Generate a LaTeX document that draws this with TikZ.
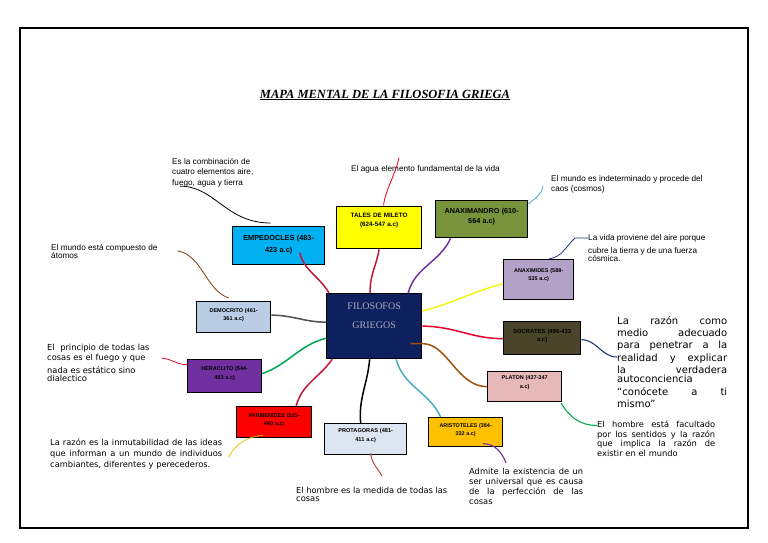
\documentclass[tikz,border=0pt]{standalone}
\usepackage{fontspec}
\setmainfont{Liberation Sans}
\newfontfamily\dvsans{DejaVu Sans}
\newfontfamily\lserif{Liberation Serif}
\tolerance=10000
\hbadness=10000
\definecolor{hubnavy}{RGB}{14,33,94}
\definecolor{hubtext}{RGB}{170,170,186}
\definecolor{fillempedocles}{RGB}{0,176,240}
\definecolor{filltales}{RGB}{255,255,0}
\definecolor{fillanaximandro}{RGB}{119,147,60}
\definecolor{fillanaximides}{RGB}{179,162,199}
\definecolor{filldemocrito}{RGB}{185,205,229}
\definecolor{fillsocrates}{RGB}{74,69,42}
\definecolor{fillheraclito}{RGB}{112,48,160}
\definecolor{fillplaton}{RGB}{230,185,184}
\definecolor{fillparmenides}{RGB}{255,0,0}
\definecolor{fillprotagoras}{RGB}{220,230,242}
\definecolor{fillaristoteles}{RGB}{255,192,0}
\definecolor{wirecrimson}{RGB}{192,24,60}
\definecolor{wirered}{RGB}{230,0,40}
\definecolor{wirepurple}{RGB}{112,48,160}
\definecolor{wiresky}{RGB}{75,172,198}
\definecolor{wireyellow}{RGB}{245,245,20}
\definecolor{wirenavy}{RGB}{31,56,120}
\definecolor{wiregray}{RGB}{80,80,80}
\definecolor{wirebrown}{RGB}{132,60,12}
\definecolor{wiregreen}{RGB}{0,166,80}
\definecolor{wireorange}{RGB}{160,80,10}
\definecolor{wiregold}{RGB}{240,192,0}
\definecolor{wirerose}{RGB}{192,80,77}
\tikzset{
  hubbox/.style={draw, line width=1.3pt, fill=hubnavy, text=hubtext, anchor=north west, minimum width=95pt, minimum height=65pt, text width=89pt, text depth=39pt, align=center, inner sep=1pt, font=\lserif\fontsize{10}{19}\selectfont},
  philobox/.style={draw, line width=1.3pt, anchor=north west, inner sep=1pt, align=center, font=\bfseries\fontsize{5.5}{8}\selectfont},
  notetext/.style={anchor=north west, inner sep=0pt, align=left, font=\fontsize{8.2}{10.5}\selectfont},
  notewide/.style={notetext, font=\dvsans\fontsize{8.3}{10}\selectfont},
  branch/.style={line width=1.5pt},
  twig/.style={line width=0.8pt}
}
\begin{document}
\begin{tikzpicture}[x=1pt, y=1pt]
  \useasboundingbox (0,0) rectangle (768,-543);
  \draw[line width=1.5pt] (20,-28) rectangle (748,-528);
  \node[anchor=base, inner sep=0pt, font=\lserif\bfseries\itshape\fontsize{12.5}{15}\selectfont] (title) at (385,-98) {\underline{MAPA MENTAL DE LA FILOSOFIA GRIEGA}};

  \node[hubbox] (hub) at (326,-293) {FILOSOFOS\\GRIEGOS};

  \node[philobox, fill=filltales, minimum width=85pt, minimum height=42pt, text width=79pt, text depth=24pt, font=\bfseries\fontsize{6.3}{9}\selectfont] (tales) at (336,-206) {TALES DE MILETO\\(624-547 a.c)};
  \node[philobox, fill=fillanaximandro, minimum width=92pt, minimum height=37pt, text width=86pt, text depth=17pt, font=\bfseries\fontsize{7.2}{10.5}\selectfont] (anaximandro) at (435,-200) {ANAXIMANDRO (610-\\564 a.c)};
  \node[philobox, fill=fillempedocles, minimum width=92pt, minimum height=38pt, text width=86pt, text depth=16pt, font=\bfseries\fontsize{7.3}{12}\selectfont] (empedocles) at (232,-226) {EMPEDOCLES (483-\\423 a.c)};
  \node[philobox, fill=fillanaximides, minimum width=70pt, minimum height=40pt, text width=64pt, text depth=19pt] (anaximides) at (503,-259) {ANAXIMIDES (588-\\535 a.c)};
  \node[philobox, fill=filldemocrito, minimum width=74pt, minimum height=31pt, text width=68pt, text depth=13pt] (democrito) at (196,-301) {DEMOCRITO (461-\\361 a.c)};
  \node[philobox, fill=fillsocrates, minimum width=77pt, minimum height=33pt, text width=71pt, text depth=13pt, font=\bfseries\fontsize{5.9}{7.5}\selectfont] (socrates) at (503,-321) {SOCRATES (496-433\\a.c)};
  \node[philobox, fill=fillheraclito, minimum width=74pt, minimum height=33pt, text width=68pt, text depth=15pt, font=\bfseries\fontsize{5.5}{9}\selectfont] (heraclito) at (187,-359) {HERACLITO (544-\\483 a.c)};
  \node[philobox, fill=fillplaton, minimum width=74pt, minimum height=30pt, text width=68pt, text depth=18pt, font=\bfseries\fontsize{5.5}{9}\selectfont] (platon) at (487,-371) {PLATON (427-347\\a.c)};
  \node[philobox, fill=fillparmenides, minimum width=75pt, minimum height=31pt, text width=69pt, text depth=14pt, font=\bfseries\fontsize{5.5}{8.5}\selectfont] (parmenides) at (236,-406) {PARMENIDES (515-\\440 a.c)};
  \node[philobox, fill=fillprotagoras, minimum width=82pt, minimum height=31pt, text width=76pt, text depth=17pt, font=\bfseries\fontsize{5.6}{8.5}\selectfont] (protagoras) at (324,-423) {PROTAGORAS (481-\\411 a.c)};
  \node[philobox, fill=fillaristoteles, minimum width=74pt, minimum height=29pt, text width=68pt, text depth=13pt, font=\bfseries\fontsize{5.4}{8}\selectfont] (aristoteles) at (428,-417) {ARISTOTELES (384-\\332 a.c)};

  \node[notetext] (nEmpedocles) at (172,-158) {Es la combinación de\\cuatro elementos aire,\\fuego, agua y tierra};
  \node[notetext] (nTales) at (351,-165.5) {El agua elemento fundamental de la vida};
  \node[notetext, font=\fontsize{8.2}{10}\selectfont] (nAnaximandro) at (551,-175) {El mundo es indeterminado y procede del\\caos (cosmos)};
  \node[notetext] (nAnaximides) at (588,-234) {La vida proviene del aire porque\\[2.5pt]cubre la tierra y de una fuerza\\[-2.5pt]cósmica.};
  \node[notetext] (nDemocrito) at (51,-244.5) {El mundo está compuesto de\\[-2.5pt]átomos};
  \node[notewide, text width=105pt] (nHeraclito) at (47,-344) {El~ principio de todas las\\cosas es el fuego y que\\[3pt]nada es estático sino\\[-2pt]dialectico};
  \node[notewide, text width=172pt, font=\dvsans\fontsize{8.3}{11}\selectfont] (nParmenides) at (50,-439) {La \hfill razón \hfill es \hfill la \hfill inmutabilidad \hfill de \hfill las \hfill ideas\\que \hfill informan \hfill a \hfill un \hfill mundo \hfill de \hfill individuos\\cambiantes, diferentes y perecederos.};
  \node[notewide] (nProtagoras) at (296,-487) {El hombre es la medida de todas las\\[-2pt]cosas};
  \node[notewide, text width=114pt] (nAristoteles) at (469,-468) {Admite \hfill la \hfill existencia \hfill de \hfill un\\ser \hfill universal \hfill que \hfill es \hfill causa\\de \hfill la \hfill perfección \hfill de \hfill las\\cosas};
  \node[notewide, text width=118pt, font=\dvsans\fontsize{8.3}{9.7}\selectfont] (nPlaton) at (597,-420.5) {El \hfill hombre \hfill está \hfill facultado\\por \hfill los \hfill sentidos \hfill y \hfill la \hfill razón\\que \hfill implica \hfill la \hfill razón \hfill de\\existir en el mundo};
  \node[notewide, text width=110pt, font=\dvsans\fontsize{10}{12.3}\selectfont] (nSocrates) at (617,-316) {La \hfill razón \hfill como\\medio \hfill adecuado\\para \hfill penetrar \hfill a \hfill la\\realidad \hfill y \hfill explicar\\la \hfill verdadera\\[-3pt]autoconciencia\\“conócete \hfill a \hfill ti\\mismo”};

  \draw[branch, wirecrimson] ([xshift=-4pt]hub.north) to[out=92,in=-100] (tales.south);
  \draw[twig, wirered] ([xshift=4.5pt]tales.north) .. controls +(90:12) and +(-100:15) .. ([xshift=48pt,yshift=8pt]nTales.north west);
  \draw[branch, wirecrimson] ([xshift=21pt,yshift=-7pt]empedocles.center) to[out=-75,in=120] ([xshift=3pt]hub.north west);
  \draw[twig, black] ([xshift=8pt,yshift=1pt]nEmpedocles.south west) .. controls +(35,0) and +(-45,0) .. ([xshift=-8pt,yshift=3pt]empedocles.north);
  \draw[branch, wirepurple] ([xshift=-31pt]anaximandro.south) to[out=-115,in=75] ([xshift=34pt]hub.north);
  \draw[twig, wiresky] ([yshift=-4pt]anaximandro.north east) to[out=40,in=-100] ([xshift=-8pt,yshift=-11pt]nAnaximandro.north west);
  \draw[branch, wireyellow] ([yshift=15pt]hub.east) to[out=15,in=195] ([yshift=-4pt]anaximides.west);
  \draw[twig, wirenavy] ([xshift=10pt]anaximides.north) .. controls +(14,2) and +(-9,-8) .. ([xshift=-13pt,yshift=-4pt]nAnaximides.north west) -- ([yshift=-4pt]nAnaximides.north west);
  \draw[branch, wiregray] ([yshift=2pt]democrito.east) to[out=0,in=180] ([yshift=4pt]hub.west);
  \draw[twig, wirebrown] ([xshift=20pt,yshift=1pt]nDemocrito.east) .. controls +(25,-5) and +(-23,8) .. ([xshift=-5pt,yshift=3pt]democrito.north);
  \draw[branch, wirered] (hub.east) to[out=0,in=180] ([yshift=-0.5pt]socrates.west);
  \draw[twig, wirenavy, line width=1.1pt] ([yshift=-1.5pt]socrates.east) to[out=0,in=180] ([yshift=-41pt]nSocrates.north west);
  \draw[branch, wiregreen] ([yshift=2.5pt]heraclito.east) to[out=20,in=195] ([yshift=-12pt]hub.west);
  \draw[twig, wirered] ([xshift=9pt,yshift=-14pt]nHeraclito.north east) to[out=-5,in=180] ([yshift=11.5pt]heraclito.west);
  \draw[branch, wireorange] ([xshift=36.5pt,yshift=-17.5pt]hub.center) -- ++(12,0) .. controls +(25,0) and +(-30,0) .. (platon.west);
  \draw[twig, wiregreen, line width=1.1pt] ([xshift=-1pt,yshift=-1pt]platon.south east) to[out=-60,in=180] ([yshift=-5pt]nPlaton.north west);
  \draw[branch, wirecrimson] ([xshift=22pt]parmenides.north) to[out=75,in=-125] ([xshift=-42pt]hub.south);
  \draw[twig, wiregold] ([xshift=-11pt,yshift=3pt]parmenides.south) to[out=185,in=60] ([xshift=6pt,yshift=-18pt]nParmenides.north east);
  \draw[branch, black] ([xshift=-5pt]protagoras.north) to[out=95,in=-95] ([xshift=-4.5pt]hub.south);
  \draw[twig, wirerose, line width=1.1pt] ([xshift=5pt,yshift=2pt]protagoras.south) to[out=-85,in=120] ([xshift=86pt,yshift=11pt]nProtagoras.north west);
  \draw[branch, wiresky] ([xshift=22pt]hub.south) to[out=-75,in=115] ([xshift=-25pt]aristoteles.north);
  \draw[twig, wirepurple, line width=1.1pt] ([xshift=17pt,yshift=-11.5pt]aristoteles.center) to[out=0,in=110] ([xshift=37pt,yshift=5pt]nAristoteles.north west);
\end{tikzpicture}
\end{document}
